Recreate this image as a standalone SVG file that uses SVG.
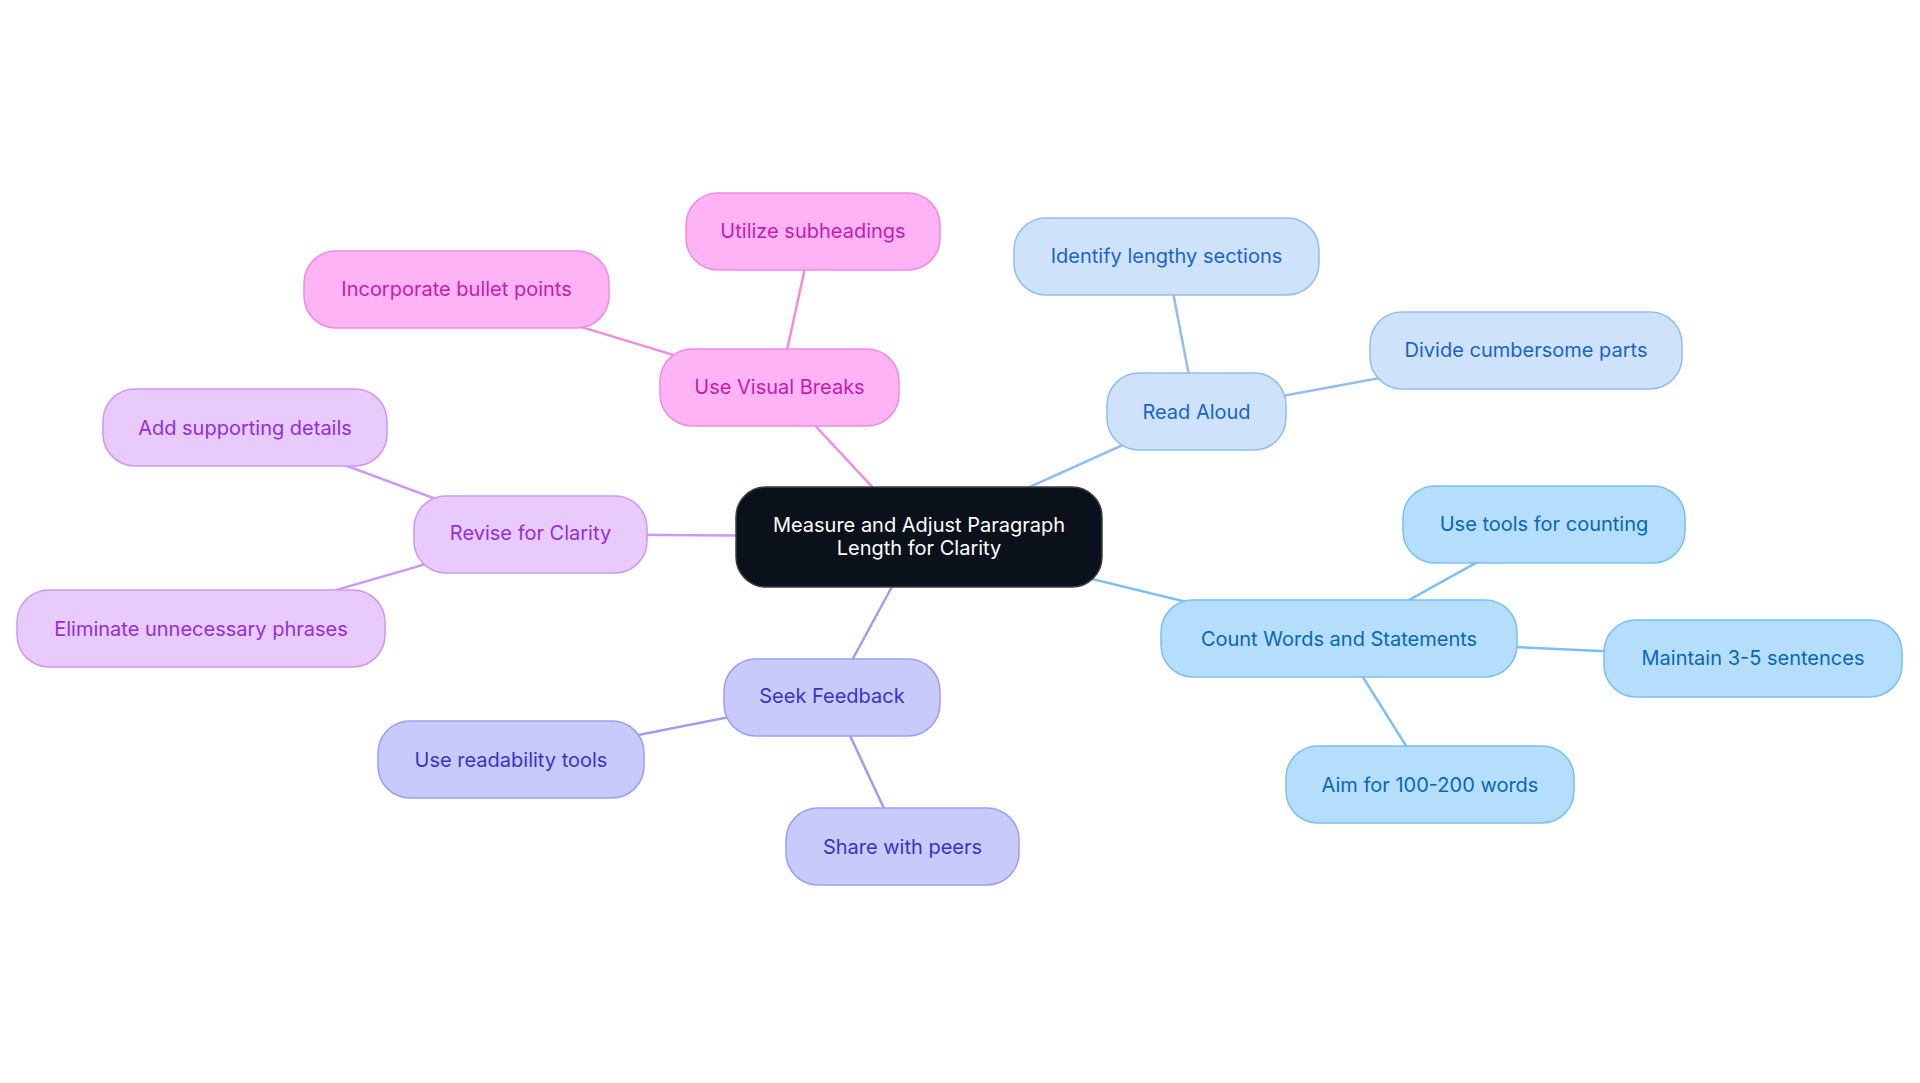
<svg xmlns="http://www.w3.org/2000/svg" width="1920" height="1083" viewBox="0 0 1920 1083">
<style>
text{font-family:Inter,"Noto Sans","Liberation Sans",sans-serif;font-size:20px;text-anchor:middle;dominant-baseline:central}
.e{stroke-width:2.5;fill:none}
.pk rect{fill:#FDB3F4;stroke:#F08BE2;stroke-width:1.5}.pk text{fill:#C41DAE}
.pu rect{fill:#E8CAFC;stroke:#CF97F4;stroke-width:1.5}.pu text{fill:#9230D6}
.in rect{fill:#C8CAFC;stroke:#9C9EF0;stroke-width:1.5}.in text{fill:#3B33C4}
.lb rect{fill:#CEE3FB;stroke:#93BDEF;stroke-width:1.5}.lb text{fill:#1B63C7}
.sb rect{fill:#B5DEFD;stroke:#7CBFF0;stroke-width:1.5}.sb text{fill:#0A67B3}
</style>
<rect width="1920" height="1083" fill="#ffffff"/>
<g id="connectors">
<g stroke="#F08BE2" class="e">
<line x1="919" y1="537" x2="779" y2="387"/>
<line x1="779" y1="387" x2="813" y2="231"/>
<line x1="779" y1="387" x2="456" y2="289"/>
</g>
<g stroke="#CF97F4" class="e">
<line x1="919" y1="537" x2="530" y2="534"/>
<line x1="530" y1="534" x2="245" y2="428"/>
<line x1="530" y1="534" x2="201" y2="629"/>
</g>
<g stroke="#9C9EF0" class="e">
<line x1="919" y1="537" x2="832" y2="697"/>
<line x1="832" y1="697" x2="511" y2="760"/>
<line x1="832" y1="697" x2="902" y2="847"/>
</g>
<g stroke="#93BDEF" class="e">
<line x1="919" y1="537" x2="1196" y2="412"/>
<line x1="1196" y1="412" x2="1166" y2="256"/>
<line x1="1196" y1="412" x2="1526" y2="351"/>
</g>
<g stroke="#7CBFF0" class="e">
<line x1="919" y1="537" x2="1339" y2="639"/>
<line x1="1339" y1="639" x2="1544" y2="525"/>
<line x1="1339" y1="639" x2="1753" y2="658"/>
<line x1="1339" y1="639" x2="1430" y2="784"/>
</g>
</g>
<g id="center">
<rect x="736" y="487" width="366" height="100" rx="30" fill="#0B111B" stroke="#3A3F47" stroke-width="1.5"/>
<text x="919" y="525" fill="#ffffff">Measure and Adjust Paragraph</text>
<text x="919" y="548" fill="#ffffff">Length for Clarity</text>
</g>
<g id="n-visual" class="pk"><rect x="660" y="349" width="239" height="77" rx="32"/><text x="779.5" y="386.5">Use Visual Breaks</text></g>
<g id="n-subheadings" class="pk"><rect x="686" y="193" width="254" height="77" rx="32"/><text x="813" y="230.5">Utilize subheadings</text></g>
<g id="n-bullets" class="pk"><rect x="304" y="251" width="305" height="77" rx="32"/><text x="456.5" y="288.5">Incorporate bullet points</text></g>
<g id="n-revise" class="pu"><rect x="414" y="496" width="233" height="77" rx="32"/><text x="530.5" y="532.5">Revise for Clarity</text></g>
<g id="n-details" class="pu"><rect x="103" y="389" width="284" height="77" rx="32"/><text x="245" y="427.5">Add supporting details</text></g>
<g id="n-eliminate" class="pu"><rect x="17" y="590" width="368" height="77" rx="32"/><text x="201" y="628.5">Eliminate unnecessary phrases</text></g>
<g id="n-feedback" class="in"><rect x="724" y="659" width="216" height="77" rx="32"/><text x="832" y="695.5">Seek Feedback</text></g>
<g id="n-readability" class="in"><rect x="378" y="721" width="266" height="77" rx="32"/><text x="511" y="759.5">Use readability tools</text></g>
<g id="n-peers" class="in"><rect x="786" y="808" width="233" height="77" rx="32"/><text x="902.5" y="846.5">Share with peers</text></g>
<g id="n-aloud" class="lb"><rect x="1107" y="373" width="179" height="77" rx="32"/><text x="1196.5" y="411.5">Read Aloud</text></g>
<g id="n-identify" class="lb"><rect x="1014" y="218" width="305" height="77" rx="32"/><text x="1166.5" y="255.5">Identify lengthy sections</text></g>
<g id="n-divide" class="lb"><rect x="1370" y="312" width="312" height="77" rx="32"/><text x="1526" y="349.5">Divide cumbersome parts</text></g>
<g id="n-count" class="sb"><rect x="1161" y="600" width="356" height="77" rx="32"/><text x="1339" y="638.5">Count Words and Statements</text></g>
<g id="n-tools" class="sb"><rect x="1403" y="486" width="282" height="77" rx="32"/><text x="1544" y="523.5">Use tools for counting</text></g>
<g id="n-maintain" class="sb"><rect x="1604" y="620" width="298" height="77" rx="32"/><text x="1753" y="657.5">Maintain 3-5 sentences</text></g>
<g id="n-aim" class="sb"><rect x="1286" y="746" width="288" height="77" rx="32"/><text x="1430" y="784.5">Aim for 100-200 words</text></g>
</svg>
